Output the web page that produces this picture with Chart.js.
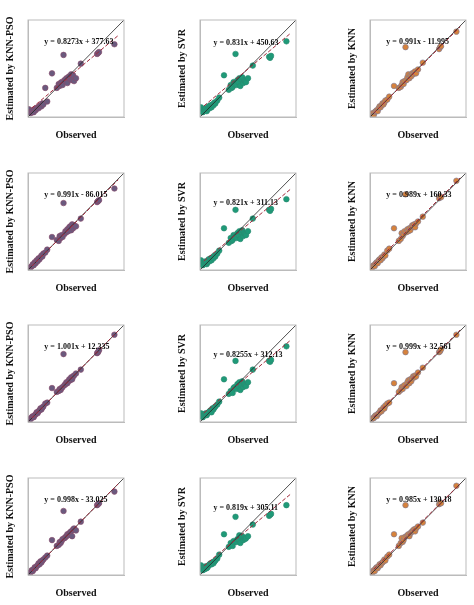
<!DOCTYPE html>
<html><head><meta charset="utf-8">
<script src="https://cdn.jsdelivr.net/npm/chart.js@4"></script>
<style>
body{margin:0;background:#fff;width:474px;height:605px;position:relative;overflow:hidden}
.box{position:absolute;width:132px;height:145px}
</style></head><body>
<script>
const models = ['KNN-PSO', 'SVR', 'KNN'];
const colors = ['#6a5a7e', '#1f9a78', '#d6823c'];
const edges = ['#8a4a6a', '#2a8a70', '#7a7a9a'];
const equations = [
  ['y = 0.8273x + 377.63', 'y = 0.831x + 450.63', 'y = 0.991x - 11.995'],
  ['y = 0.991x - 86.015', 'y = 0.821x + 311.13', 'y = 0.989x + 160.33'],
  ['y = 1.001x + 12.335', 'y = 0.8255x + 312.13', 'y = 0.999x + 32.561'],
  ['y = 0.998x - 33.025', 'y = 0.819x + 305.11', 'y = 0.985x + 130.18']
];
// fit lines in plot units (slope, intercept)
const fits = [
  [[0.83, 6], [0.83, 8], [0.99, 0]],
  [[0.99, 0], [0.82, 6], [0.99, 2]],
  [[1.0, 0], [0.83, 6], [1.0, 1]],
  [[1.0, 0], [0.82, 6], [0.98, 2]]
];
const observed = [1,2,3,4,5,6,7,8,9,10,11,12,13,14,15,16,18,20,25,
  30,32,33,34,35,36,37,38,39,40,41,42,43,44,45,46,47,48,50,55,72,73,74,90];
const estimated = [
  [
    [8,5,4,6,7,5,8,7,9,10,9,11,12,11,14,13,30,16,45,30,34,32,35,36,33,64,38,37,40,35,41,42,39,44,38,43,37,40,55,65,66,67,75],
    [10,6,5,8,7,9,6,8,11,9,12,10,13,12,15,14,17,20,43,28,33,30,31,36,34,65,33,38,36,40,32,39,41,35,38,37,36,40,53,62,61,63,78],
    [3,1,4,2,5,6,7,6,9,11,10,12,14,13,15,17,18,21,32,30,31,33,36,34,37,72,38,41,44,40,43,42,45,44,46,47,45,49,56,70,72,73,88]
  ],
  [
    [2,1,3,4,6,5,8,7,10,9,12,11,13,15,14,17,18,21,34,31,30,35,33,36,34,69,37,40,39,42,40,44,45,41,47,43,46,45,53,70,71,72,84],
    [10,6,5,8,7,9,6,8,11,9,12,10,13,12,15,14,17,20,43,28,33,30,31,36,34,62,33,38,36,40,32,39,41,35,38,37,36,40,53,62,61,63,73],
    [3,2,4,5,4,7,8,7,10,11,10,13,12,14,16,15,20,22,43,30,32,38,35,37,40,78,39,42,40,43,41,44,46,45,47,44,48,50,55,74,76,75,92]
  ],
  [
    [2,3,3,5,6,5,7,8,10,9,11,12,14,13,15,16,19,20,35,31,32,34,33,35,36,70,38,39,41,40,42,44,43,46,44,47,48,50,54,71,72,74,90],
    [9,6,5,7,8,9,7,9,10,11,12,10,14,13,15,16,18,21,44,29,32,31,30,35,36,63,34,39,37,41,33,38,42,36,39,38,37,41,54,63,62,64,78],
    [2,3,4,4,6,7,6,8,9,10,12,11,13,15,14,17,19,20,40,31,33,36,34,37,38,72,37,41,43,40,44,42,45,47,46,48,47,51,56,72,73,75,90]
  ],
  [
    [2,1,3,5,4,6,8,7,9,10,12,11,14,13,15,16,18,20,36,30,31,34,33,35,37,66,38,39,40,42,41,43,44,45,40,47,48,46,55,72,73,74,86],
    [10,7,5,8,6,9,7,8,10,11,12,11,13,12,14,15,17,21,42,29,33,31,30,35,34,60,34,37,37,41,33,39,40,36,38,37,38,40,52,61,62,63,72],
    [3,2,3,5,4,7,8,7,9,11,10,12,13,14,16,15,19,21,42,30,33,38,34,36,39,72,40,41,42,40,43,44,45,46,47,45,48,50,54,73,75,74,92]
  ]
];

const lefts = [-2, 170, 340];
const tops = [0, 153, 305, 458];

const eqPlugin = {
  id: 'eq',
  afterDatasetsDraw(chart, args, opts) {
    const { ctx, chartArea } = chart;
    ctx.save();
    ctx.font = 'bold 8px "Liberation Serif"';
    ctx.fillStyle = '#111';
    ctx.textAlign = 'left';
    ctx.fillText(opts.text, chartArea.left + (chartArea.right - chartArea.left) * opts.fx,
      chartArea.top + (chartArea.bottom - chartArea.top) * opts.fy);
    ctx.restore();
  }
};

for (let r = 0; r < 4; r++) {
  for (let c = 0; c < 3; c++) {
    const div = document.createElement('div');
    div.className = 'box';
    div.style.left = lefts[c] + 'px';
    div.style.top = tops[r] + 'px';
    const cv = document.createElement('canvas');
    div.appendChild(cv);
    document.body.appendChild(div);
    const pts = observed.map((x, i) => ({ x, y: estimated[r][c][i] }));
    const [m, b] = fits[r][c];
    new Chart(cv, {
      type: 'scatter',
      data: {
        datasets: [
          { data: pts, backgroundColor: colors[c], borderColor: edges[c], borderWidth: 0.6, pointRadius: 2.8, order: 3 },
          { type: 'line', data: [{ x: 0, y: 0 }, { x: 100, y: 100 }], borderColor: '#222', borderWidth: 0.8, pointRadius: 0, order: 2 },
          { type: 'line', data: [{ x: 4, y: m * 4 + b }, { x: 94, y: m * 94 + b }], borderColor: '#a0283a', borderWidth: 1, borderDash: [4, 2], pointRadius: 0, order: 1 }
        ]
      },
      options: {
        responsive: true, maintainAspectRatio: false, animation: false,
        layout: { padding: { top: 20, right: 6, left: 2 } },
        plugins: { legend: { display: false }, tooltip: { enabled: false },
          eq: { text: equations[r][c], fx: c === 1 ? 0.14 : (c === 2 ? 0.17 : 0.17), fy: c === 1 ? (r === 0 ? 0.26 : 0.33) : 0.25 } },
        scales: {
          x: { min: 0, max: 100, ticks: { display: false }, grid: { display: false }, border: { color: '#bbb' },
            title: { display: true, text: 'Observed', font: { family: 'Liberation Serif', weight: 'bold', size: 10 }, color: '#111', padding: { top: 4 } } },
          y: { min: 0, max: 100, ticks: { display: false }, grid: { display: false }, border: { color: '#bbb' },
            title: { display: true, text: 'Estimated by ' + models[c], font: { family: 'Liberation Serif', weight: 'bold', size: 10 }, color: '#111', padding: { bottom: 4 } } }
        }
      },
      plugins: [eqPlugin, {
        id: 'frame',
        afterDraw(chart) {
          const { ctx, chartArea: a } = chart;
          ctx.save(); ctx.strokeStyle = '#bbb'; ctx.lineWidth = 1;
          ctx.strokeRect(a.left, a.top, a.right - a.left, a.bottom - a.top);
          ctx.restore();
        }
      }]
    });
  }
}
</script>
</body></html>
